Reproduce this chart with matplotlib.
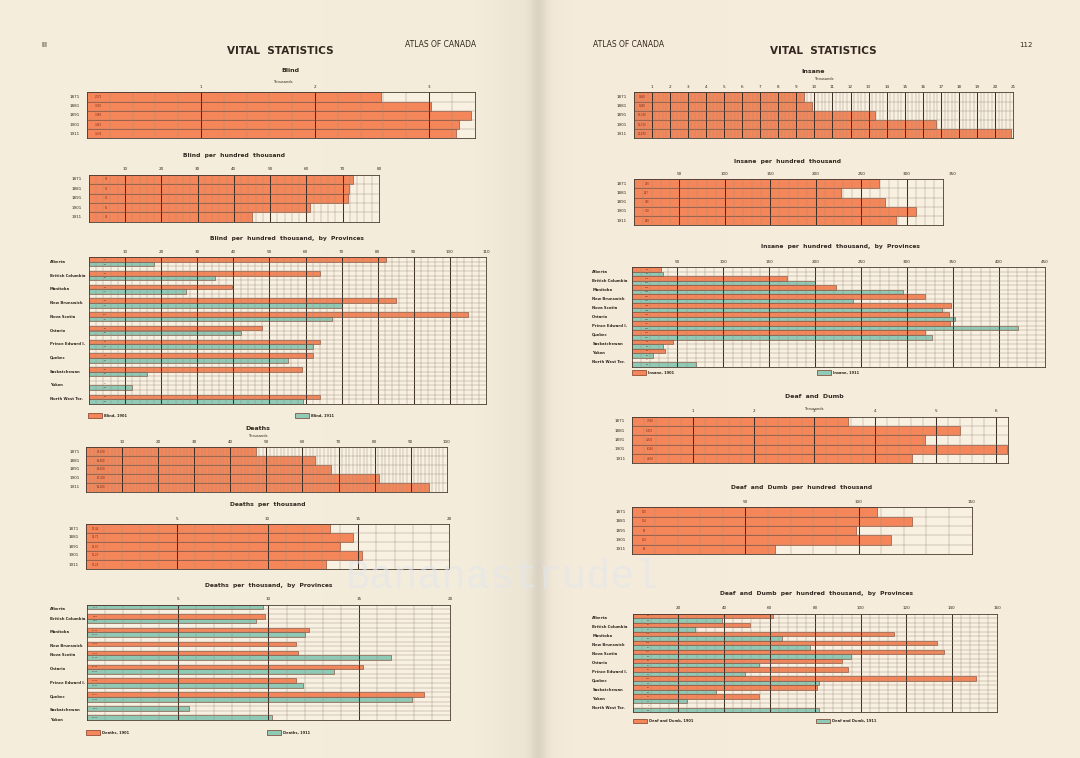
import matplotlib
matplotlib.use("Agg")
import matplotlib.pyplot as plt
from matplotlib.patches import Rectangle
import numpy as np

W, H = 1080, 758

# ---- data ----
years = ["1871", "1881", "1891", "1901", "1911"]

blind_total = [2575, 3020, 3368, 3262, 3234]
blind_rate = [72.8, 71.7, 71.5, 60.9, 45.0]
deaths_total = [47000, 63600, 67800, 81300, 95200]
deaths_rate = [13.44, 14.71, 14.00, 15.23, 13.24]
insane_total = [9440, 9860, 13330, 16750, 20870]
insane_rate = [269.9, 227.4, 276.5, 310.2, 288.6]
deaf_total = [3560, 5410, 4830, 6180, 4610]
deaf_rate = [108.2, 123.7, 99.0, 114.4, 62.9]

provinces = ["Alberta", "British Columbia", "Manitoba", "New Brunswick", "Nova Scotia",
             "Ontario", "Prince Edward I.", "Quebec", "Saskatchewan", "Yukon",
             "North West Ter."]

blind_prov_1901 = [82.2, 64.0, 39.7, 85.2, 105.1, 47.8, 64.0, 62.0, 59.1, 0, 64.0]
blind_prov_1911 = [18.0, 34.8, 26.9, 70.0, 67.2, 42.0, 62.0, 55.0, 16.0, 11.9, 59.2]

death_provinces = provinces[:10]
deaths_prov_1901 = [None, 9.83, 12.22, 11.53, 11.64, 15.22, 11.53, 18.57, None, None]
deaths_prov_1911 = [9.71, 9.34, 12.00, None, 16.76, 13.64, 11.91, 17.92, 5.61, 10.20]

insane_prov_1901 = [31.8, 169.3, 222.7, 319.5, 348.2, 345.6, 346.7, 319.5, 44.9, 36.5, 0]
insane_prov_1911 = [34.7, 200.2, 295.8, 241.3, 337.6, 352.2, 420.2, 326.7, 34.7, 23.1, 70.4]

deaf_prov_1901 = [61.4, 51.4, 114.6, 133.4, 136.6, 91.7, 94.6, 150.5, 80.7, 55.4, 0]
deaf_prov_1911 = [39.0, 27.3, 65.3, 77.8, 95.6, 55.4, 49.2, 81.9, 36.4, 23.9, 81.9]

ORANGE = "#f5865a"
TEAL = "#8ecab6"
EDGE = "#7a3a26"
INK = "#33261f"
PLOT_BG = "#f8f1e2"
NUM = "#7a2a18"

fig = plt.figure(figsize=(W / 100, H / 100), dpi=100)
fig.patch.set_facecolor("#f4ebd8")

# page background with the fold in the middle
bg = fig.add_axes([0, 0, 1, 1], zorder=-10)
xx = np.arange(W)
shade = 1 - 0.08 * np.exp(-((xx - 538) / 8.0) ** 2) - 0.03 * np.exp(-((xx - 525) / 35.0) ** 2)
base = np.where(xx < 540, 1.0, 0.0)[:, None] * np.array([245, 237, 219]) + \
       np.where(xx < 540, 0.0, 1.0)[:, None] * np.array([246, 236, 219])
img = (base * shade[:, None] / 255.0)[None, :, :]
bg.imshow(img, aspect="auto", extent=[0, 1, 0, 1])
bg.axis("off")


def px_ax(l, t, r, b):
    return fig.add_axes([l / W, 1 - b / H, (r - l) / W, (b - t) / H])


def ftext(x, y, s, **kw):
    kw.setdefault("color", INK)
    kw.setdefault("ha", "center")
    kw.setdefault("va", "center")
    fig.text(x / W, 1 - y / H, s, **kw)


def style(ax, xmax, nrows, minor, major, ticks):
    ax.set_xlim(0, xmax)
    ax.set_ylim(nrows, 0)
    ax.set_facecolor(PLOT_BG)
    ax.set_xticks([])
    ax.set_yticks([])
    xs = np.arange(minor, xmax - 1e-6, minor)
    is_maj = np.abs(xs / major - np.round(xs / major)) < 1e-6
    ax.vlines(xs[~is_maj], 0, nrows, colors="#9c8b79", lw=0.3, zorder=3)
    ax.vlines(xs[is_maj], 0, nrows, colors="#3f3028", lw=0.75, zorder=3)
    ax.hlines(np.arange(1, nrows), 0, xmax, colors="#9c8b79", lw=0.3, zorder=3)
    for s in ax.spines.values():
        s.set_color("#4a3a30")
        s.set_linewidth(0.6)
        s.set_zorder(4)
    for t in ticks:
        ax.annotate(f"{t:g}", xy=(t, 1), xycoords=("data", "axes fraction"),
                    xytext=(0, 2.5), textcoords="offset points", ha="center",
                    va="bottom", fontsize=3, color=INK, annotation_clip=False)


def year_panel(ax, values, scale, xmax, minor, major, ticks, fmt, lab_x):
    style(ax, xmax, len(values), minor, major, ticks)
    for i, (yr, v) in enumerate(zip(years, values)):
        ax.barh(i, v / scale, height=1, align="edge", color=ORANGE,
                edgecolor=EDGE, lw=0.4, zorder=2)
        ax.text(lab_x, i + 0.5, fmt(v), transform=ax.get_yaxis_transform(),
                fontsize=1.8, color=NUM, ha="center", va="center", zorder=5)
        ax.annotate(yr, xy=(0, i + 0.5), xycoords=("axes fraction", "data"),
                    xytext=(-5, 0), textcoords="offset points", ha="right",
                    va="center", fontsize=3, color=INK, annotation_clip=False)


def province_panel(ax, names, a, b, gap, xmax, minor, major, ticks, fmt, lab_x, name_x):
    rows, label_y = [], []
    y = 0
    for va, vb in zip(a, b):
        start = y
        for v, c in ((va, ORANGE), (vb, TEAL)):
            if v is None:
                continue
            rows.append((y, v, c))
            y += 1
        label_y.append((start + y) / 2 + (0.4 if y - start == 1 else 0))
        y += gap
    total = y - gap
    style(ax, xmax, total, minor, major, ticks)
    for yy, v, c in rows:
        if v > 0:
            ax.barh(yy, v, height=1, align="edge", color=c, edgecolor=EDGE,
                    lw=0.4, zorder=2)
        ax.text(lab_x, yy + 0.5, fmt(v), transform=ax.get_yaxis_transform(),
                fontsize=1.6, color=NUM, ha="center", va="center", zorder=5)
    for name, ly in zip(names, label_y):
        ax.annotate(name, xy=(name_x / W, ly), xycoords=("figure fraction", "data"),
                    ha="left", va="center", fontsize=2.7, fontweight="bold",
                    color=INK, annotation_clip=False)


def legend(y, x1, s1, x2, s2):
    for x, c, s in ((x1, ORANGE, s1), (x2, TEAL, s2)):
        fig.add_artist(Rectangle((x / W, 1 - (y + 2.3) / H), 14 / W, 4.6 / H,
                                 transform=fig.transFigure, facecolor=c,
                                 edgecolor=EDGE, lw=0.5))
        ftext(x + 16, y, s, ha="left", fontsize=2.6, fontweight="bold")


# ---- headers ----
ftext(44.7, 44.7, "III", fontsize=5)
ftext(476, 44.7, "ATLAS OF CANADA", ha="right", fontsize=5.5)
ftext(280, 50.7, "VITAL  STATISTICS", fontsize=7.5, fontweight="bold")
ftext(593, 44.7, "ATLAS OF CANADA", ha="left", fontsize=5.5)
ftext(1032.7, 44.7, "112", ha="right", fontsize=5)
ftext(823, 50.7, "VITAL  STATISTICS", fontsize=7.5, fontweight="bold")

# ---- left page ----
ftext(290, 70, "Blind", fontsize=4.5, fontweight="bold")
ftext(283, 82.3, "Thousands", fontsize=2.6)
ax = px_ax(87, 92.3, 474.6, 138.3)
year_panel(ax, blind_total, 1000, 3.4, 0.2, 1, [1, 2, 3], lambda v: f"{v:,}", 0.03)

ftext(234, 155.3, "Blind  per  hundred  thousand", fontsize=4.3, fontweight="bold")
ax = px_ax(88.7, 174.7, 379, 221.8)
year_panel(ax, blind_rate, 1, 80, 2, 10, range(10, 81, 10), lambda v: f"{v:.0f}", 0.062)

ftext(286.7, 238.7, "Blind  per  hundred  thousand,  by  Provinces", fontsize=4.3, fontweight="bold")
ax = px_ax(89, 257.3, 486, 403.7)
province_panel(ax, provinces, blind_prov_1901, blind_prov_1911, 1, 110, 2, 10,
               range(10, 111, 10), lambda v: f"{v:.0f}", 0.04, 50)
legend(415.7, 88.3, "Blind, 1901", 295, "Blind, 1911")

ftext(257.5, 428.3, "Deaths", fontsize=4.5, fontweight="bold")
ftext(258, 435.7, "Thousands", fontsize=2.6)
ax = px_ax(86.3, 447.3, 446.6, 491.7)
year_panel(ax, deaths_total, 1000, 100, 1, 10, range(10, 101, 10), lambda v: f"{v:,}", 0.04)

ftext(268, 504.7, "Deaths  per  thousand", fontsize=4.3, fontweight="bold")
ax = px_ax(86, 524, 449, 569)
year_panel(ax, deaths_rate, 1, 20, 1, 5, [5, 10, 15, 20], lambda v: f"{v:.2f}", 0.025)

ftext(269, 585.7, "Deaths  per  thousand,  by  Provinces", fontsize=4.3, fontweight="bold")
ax = px_ax(86.7, 604.7, 450, 720)
province_panel(ax, death_provinces, deaths_prov_1901, deaths_prov_1911, 1, 20, 1, 5,
               [5, 10, 15, 20], lambda v: f"{v:.2f}", 0.023, 50)
legend(732.7, 86, "Deaths, 1901", 266.7, "Deaths, 1911")

# ---- right page ----
ftext(813, 71.7, "Insane", fontsize=4.5, fontweight="bold")
ftext(824, 79.3, "Thousands", fontsize=2.6)
ax = px_ax(633.6, 92.3, 1013.3, 138.3)
year_panel(ax, insane_total, 1000, 21, 0.2, 1, range(1, 22), lambda v: f"{v:,}", 0.022)

ftext(788, 161.7, "Insane  per  hundred  thousand", fontsize=4.3, fontweight="bold")
ax = px_ax(633.7, 179, 943.3, 225.3)
year_panel(ax, insane_rate, 1, 340, 10, 50, range(50, 351, 50), lambda v: f"{v:.0f}", 0.042)

ftext(840, 246.7, "Insane  per  hundred  thousand,  by  Provinces", fontsize=4.3, fontweight="bold")
ax = px_ax(631.5, 267, 1045, 366.7)
province_panel(ax, provinces, insane_prov_1901, insane_prov_1911, 0, 450, 10, 50,
               range(50, 451, 50), lambda v: f"{v:.0f}", 0.037, 592.3)
legend(372.7, 631.7, "Insane, 1901", 816.7, "Insane, 1911")

ftext(814, 396.7, "Deaf  and  Dumb", fontsize=4.5, fontweight="bold")
ftext(814, 409, "Thousands", fontsize=2.6)
ax = px_ax(632.2, 416.7, 1008.3, 463.3)
year_panel(ax, deaf_total, 1000, 6.2, 0.2, 1, range(1, 7), lambda v: f"{v:,}", 0.047)

ftext(802, 487.3, "Deaf  and  Dumb  per  hundred  thousand", fontsize=4.3, fontweight="bold")
ax = px_ax(632.3, 507.3, 971.7, 554)
year_panel(ax, deaf_rate, 1, 150, 10, 50, [50, 100, 150], lambda v: f"{v:.0f}", 0.036)

ftext(816.7, 594, "Deaf  and  Dumb  per  hundred  thousand,  by  Provinces", fontsize=4.3, fontweight="bold")
ax = px_ax(632.8, 613.7, 997.4, 712.3)
province_panel(ax, provinces, deaf_prov_1901, deaf_prov_1911, 0, 160, 4, 20,
               range(20, 161, 20), lambda v: f"{v:.0f}", 0.042, 592.3)
legend(721, 632.7, "Deaf and Dumb, 1901", 816, "Deaf and Dumb, 1911")

# seller watermark printed across the scan
fig.text(503 / W, 1 - 577 / H, "Bananastrudel", fontsize=29, family="Liberation Mono",
         color="#e2e6ec", alpha=0.6, ha="center", va="center", zorder=10)

fig.savefig("out.png", dpi=100, facecolor=fig.get_facecolor())
